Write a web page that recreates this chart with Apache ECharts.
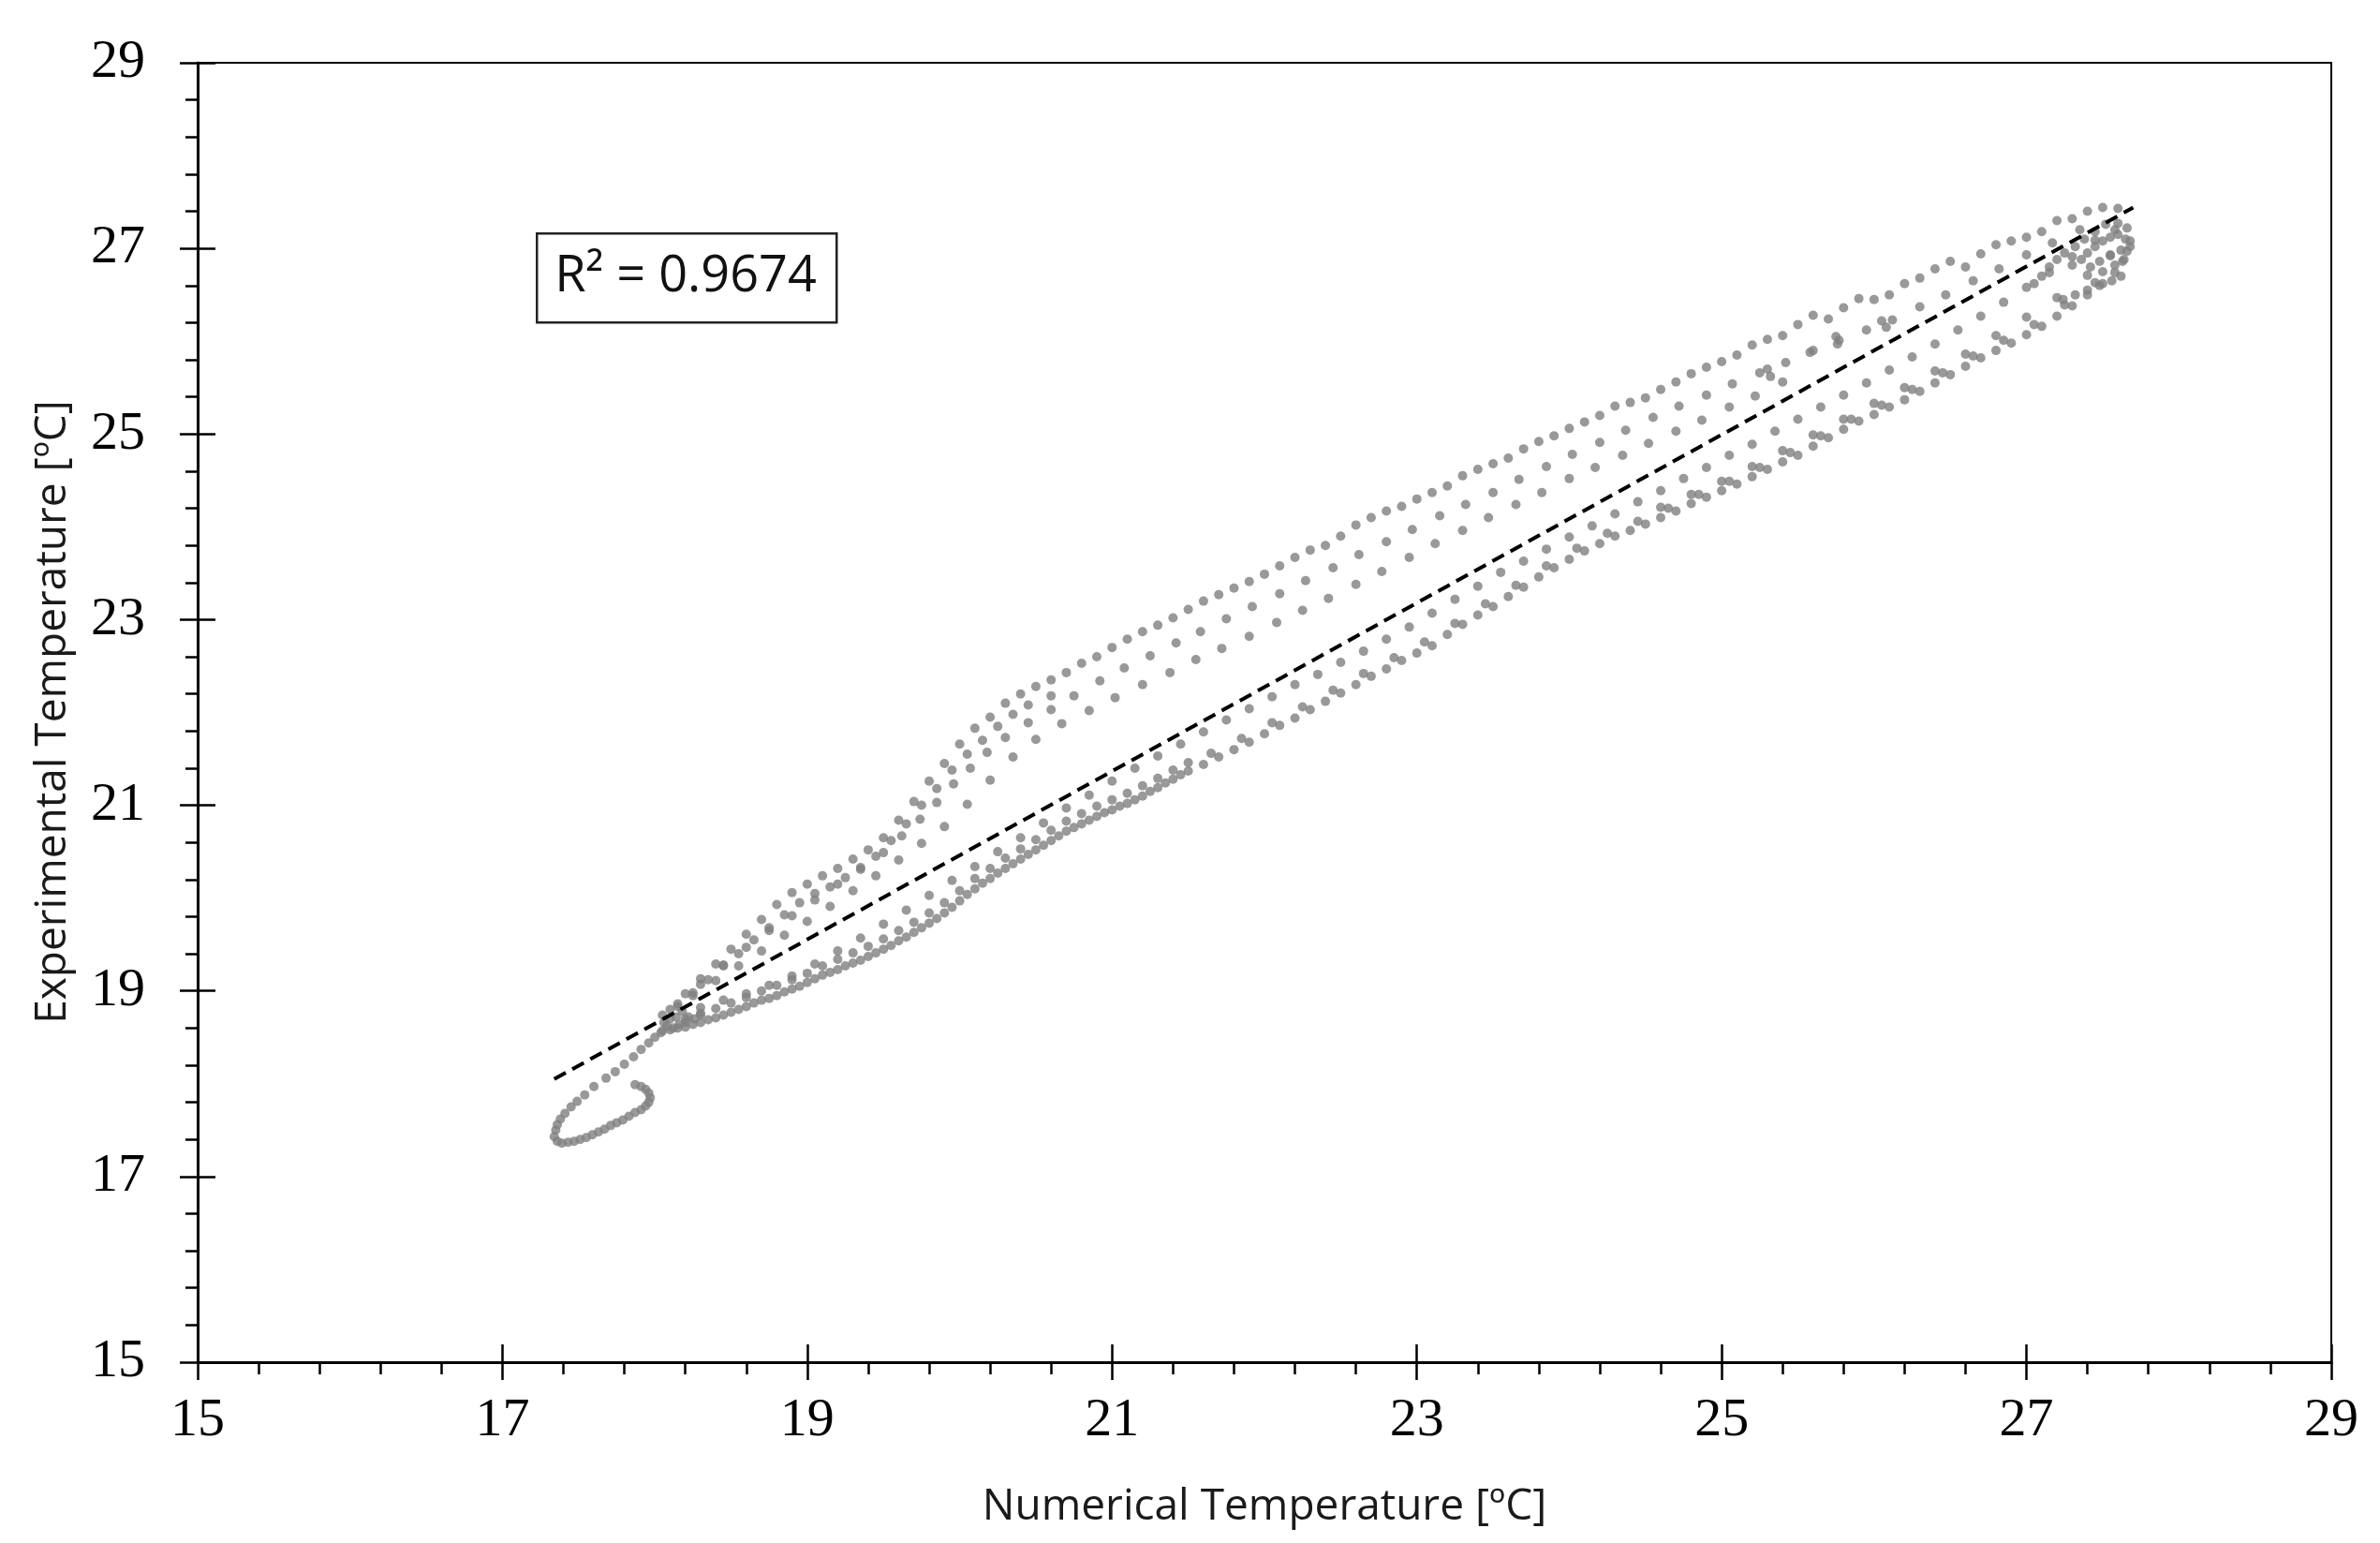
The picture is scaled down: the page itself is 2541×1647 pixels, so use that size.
<!DOCTYPE html>
<html>
<head>
<meta charset="utf-8">
<script src="https://cdn.jsdelivr.net/npm/echarts@6/dist/echarts.min.js"></script>
<style>
html,body{margin:0;padding:0;background:#fff;}
#chart{width:2541px;height:1647px;}
</style>
</head>
<body>
<div id="chart"></div>
<script>
// ---- data (Numerical temperature, Experimental temperature) ----
const xTitle = 'Numerical Temperature [ºC]';
const yTitle = 'Experimental Temperature [ºC]';
const r2Label = 'R² = 0.9674';

// outer upper edge of the loops
const upperEdge = [[18.05,18.74],[18.10,18.80],[18.20,18.97],[18.30,19.13],[18.40,19.29],[18.50,19.45],[18.60,19.61],[18.70,19.77],[18.80,19.93],[18.90,20.06],[19.00,20.15],[19.10,20.24],[19.20,20.32],[19.30,20.42],[19.40,20.52],[19.50,20.65],[19.60,20.84],[19.70,21.04],[19.80,21.26],[19.90,21.45],[20.00,21.66],[20.10,21.83],[20.20,21.95],[20.30,22.10],[20.40,22.20],[20.50,22.28],[20.60,22.35],[20.70,22.43],[20.80,22.53],[20.90,22.60],[21.00,22.70],[21.10,22.79],[21.20,22.87],[21.30,22.94],[21.40,23.02],[21.50,23.11],[21.60,23.20],[21.70,23.27],[21.80,23.34],[21.90,23.41],[22.00,23.49],[22.10,23.58],[22.20,23.67],[22.30,23.75],[22.40,23.80],[22.50,23.90],[22.60,24.02],[22.70,24.10],[22.80,24.17],[22.90,24.22],[23.00,24.30],[23.10,24.37],[23.20,24.44],[23.30,24.55],[23.40,24.62],[23.50,24.68],[23.60,24.74],[23.70,24.84],[23.80,24.92],[23.90,24.98],[24.00,25.06],[24.10,25.13],[24.20,25.20],[24.30,25.30],[24.40,25.34],[24.50,25.39],[24.60,25.48],[24.70,25.56],[24.80,25.65],[24.90,25.72],[25.00,25.78],[25.10,25.85],[25.20,25.96],[25.30,26.02],[25.40,26.06],[25.50,26.18],[25.60,26.28],[25.70,26.24],[25.80,26.36],[25.90,26.46],[26.00,26.45],[26.10,26.50],[26.20,26.62],[26.30,26.68],[26.40,26.78],[26.50,26.86],[26.60,26.80],[26.70,26.94],[26.80,27.04],[26.90,27.08],[27.00,27.12],[27.10,27.18],[27.20,27.30],[27.30,27.32],[27.40,27.40],[27.50,27.44],[27.60,27.43]];

// second row just inside the upper edge (left part)
const upperInner = [[18.15,18.83],[18.25,18.98],[18.35,19.12],[18.45,19.27],[18.55,19.40],[18.65,19.55],[18.75,19.68],[18.85,19.82],[18.95,19.95],[19.05,20.05],[19.15,20.12],[19.25,20.22],[19.35,20.33],[19.45,20.45],[19.55,20.62],[19.65,20.80],[19.75,21.00],[19.85,21.18],[19.95,21.38],[20.05,21.55],[20.15,21.70],[20.25,21.85],[20.35,21.98],[20.45,22.08],[20.60,22.18]];

// middle dotted rows above the trend line
const midRowB = [[18.15,18.86],[18.30,19.07],[18.45,19.28],[18.60,19.47],[18.75,19.65],[18.90,19.81],[19.05,19.98],[19.20,20.15],[19.35,20.31],[19.50,20.49],[19.62,20.67],[19.74,20.85],[19.85,21.03],[19.96,21.23],[20.07,21.40],[20.18,21.57],[20.30,21.73],[20.45,21.89],[20.60,22.03],[20.75,22.18],[20.92,22.34],[21.08,22.48],[21.25,22.61],[21.42,22.75],[21.58,22.87],[21.75,23.01],[21.92,23.14],[22.10,23.28],[22.27,23.42],[22.45,23.56],[22.62,23.70],[22.80,23.84],[22.97,23.97],[23.15,24.12],[23.32,24.24],[23.50,24.37],[23.67,24.51],[23.85,24.65],[24.02,24.78],[24.20,24.91],[24.37,25.04],[24.55,25.18],[24.72,25.30],[24.90,25.42],[25.07,25.54],[25.25,25.66],[25.42,25.77],[25.60,25.90],[25.77,26.01],[25.95,26.12],[26.12,26.23],[26.30,26.37],[26.47,26.50],[26.65,26.65],[26.82,26.78],[27.00,26.93],[27.17,27.06],[27.35,27.20]];

const midRowC = [[18.25,18.95],[18.40,19.11],[18.55,19.27],[18.70,19.43],[18.85,19.60],[19.00,19.75],[19.15,19.91],[19.30,20.08],[19.45,20.24],[19.60,20.41],[19.75,20.59],[19.90,20.77],[20.05,21.01],[20.20,21.27],[20.35,21.52],[20.50,21.71],[20.67,21.88],[20.85,22.02],[21.02,22.16],[21.20,22.30],[21.38,22.43],[21.55,22.57],[21.72,22.69],[21.90,22.82],[22.08,22.97],[22.25,23.10],[22.42,23.23],[22.60,23.38],[22.77,23.52],[22.95,23.67],[23.12,23.82],[23.30,23.96],[23.47,24.10],[23.65,24.24],[23.82,24.37],[24.00,24.52],[24.17,24.64],[24.35,24.77],[24.52,24.90],[24.70,25.03],[24.87,25.15],[25.05,25.29],[25.22,25.41],[25.40,25.56],[25.30,25.70],[25.32,25.62],[25.58,25.88],[25.75,26.05],[25.76,25.97],[26.05,26.22],[26.08,26.15]];

// dotted row just below the trend line
const lowRowD = [[18.30,18.82],[18.45,18.90],[18.60,18.97],[18.75,19.06],[18.90,19.16],[19.05,19.29],[19.20,19.43],[19.35,19.57],[19.50,19.72],[19.65,19.87],[19.80,20.03],[19.95,20.19],[20.10,20.34],[20.25,20.50],[20.40,20.65],[20.55,20.81],[20.70,20.97],[20.85,21.11],[21.00,21.26],[21.15,21.40],[21.30,21.53],[21.45,21.66],[21.60,21.79],[21.75,21.92],[21.90,22.04],[22.05,22.17],[22.20,22.30],[22.35,22.41],[22.50,22.54],[22.65,22.66],[22.80,22.79],[22.95,22.92],[23.10,23.07],[23.25,23.22],[23.40,23.36],[23.55,23.51],[23.70,23.63],[23.85,23.76],[24.00,23.89],[24.15,24.01],[24.30,24.14],[24.45,24.27],[24.60,24.39],[24.75,24.52],[24.90,24.64],[25.05,24.77],[25.20,24.89],[25.35,25.03],[25.50,25.16],[25.65,25.29],[25.80,25.42],[25.95,25.55],[26.10,25.69],[26.25,25.83],[26.40,25.97],[26.55,26.12],[26.70,26.27],[26.85,26.42],[27.00,26.58],[27.15,26.74],[27.30,26.91],[27.45,27.09],[27.60,27.27]];

// second lower row (right part)
const lowRowF = [[24.60,24.21],[24.80,24.35],[25.00,24.49],[25.20,24.65],[25.40,24.82],[25.60,24.99],[25.80,25.16],[26.00,25.33],[26.20,25.50],[26.40,25.68],[26.60,25.86],[26.80,26.06],[27.00,26.26],[27.20,26.47],[27.40,26.71],[27.55,26.93]];

// lower edge of the loops (dense band)
const lowerEdge = [[18.05,18.57],[18.10,18.58],[18.15,18.60],[18.20,18.61],[18.25,18.64],[18.30,18.66],[18.35,18.69],[18.40,18.71],[18.45,18.74],[18.50,18.77],[18.55,18.80],[18.60,18.83],[18.65,18.87],[18.70,18.90],[18.75,18.92],[18.80,18.95],[18.85,18.99],[18.90,19.02],[18.95,19.05],[19.00,19.09],[19.05,19.13],[19.10,19.17],[19.15,19.20],[19.20,19.23],[19.25,19.27],[19.30,19.30],[19.35,19.33],[19.40,19.37],[19.45,19.41],[19.50,19.45],[19.55,19.49],[19.60,19.54],[19.65,19.58],[19.70,19.63],[19.75,19.68],[19.80,19.73],[19.85,19.78],[19.90,19.84],[19.95,19.90],[20.00,19.97],[20.05,20.04],[20.10,20.10],[20.15,20.16],[20.20,20.21],[20.25,20.27],[20.30,20.32],[20.35,20.37],[20.40,20.42],[20.45,20.47],[20.50,20.52],[20.55,20.57],[20.60,20.62],[20.65,20.67],[20.70,20.72],[20.75,20.76],[20.80,20.80],[20.85,20.84],[20.90,20.88],[20.95,20.92],[21.00,20.95],[21.05,20.99],[21.10,21.02],[21.15,21.06],[21.20,21.10],[21.25,21.15],[21.30,21.19],[21.35,21.24],[21.40,21.28],[21.45,21.33],[21.50,21.37],[21.60,21.44],[21.70,21.52],[21.80,21.60],[21.90,21.68],[22.00,21.77],[22.10,21.86],[22.20,21.94],[22.30,22.03],[22.40,22.12],[22.50,22.21],[22.60,22.30],[22.70,22.39],[22.80,22.47],[22.90,22.56],[23.00,22.64],[23.10,22.72],[23.20,22.84],[23.30,22.95],[23.40,23.05],[23.50,23.14],[23.60,23.25],[23.70,23.35],[23.80,23.46],[23.90,23.56],[24.00,23.65],[24.10,23.74],[24.20,23.82],[24.30,23.90],[24.40,23.96],[24.50,24.03],[24.60,24.10],[24.70,24.17],[24.80,24.25],[24.90,24.32],[25.00,24.39],[25.10,24.46],[25.20,24.54],[25.30,24.62],[25.40,24.70],[25.50,24.77],[25.60,24.87],[25.70,24.96],[25.80,25.05],[25.90,25.14],[26.00,25.21],[26.10,25.29],[26.20,25.37],[26.30,25.46],[26.40,25.55],[26.50,25.64],[26.60,25.73],[26.70,25.82],[26.80,25.90],[26.90,25.98],[27.00,26.07],[27.10,26.16],[27.20,26.27],[27.30,26.38],[27.40,26.50],[27.50,26.62],[27.58,26.74],[27.63,26.86],[27.66,26.97],[27.68,27.08]];

const lowerInner = [[18.20,18.70],[18.30,18.76],[18.40,18.81],[18.50,18.87],[18.60,18.93],[18.70,19.00],[18.80,19.06],[18.90,19.12],[19.00,19.19],[19.10,19.27],[19.20,19.34],[19.30,19.41],[19.40,19.48],[19.50,19.56],[19.60,19.65],[19.70,19.74],[19.80,19.84],[19.90,19.95],[20.00,20.08],[20.10,20.21],[20.20,20.32],[20.30,20.43],[20.40,20.53],[20.50,20.63],[20.60,20.73],[20.70,20.83],[20.80,20.91],[20.90,20.99],[21.00,21.06],[21.10,21.13],[21.20,21.21],[21.30,21.29],[21.40,21.38],[21.50,21.46],[21.65,21.56],[21.85,21.72],[22.05,21.89],[22.25,22.06],[22.45,22.24],[22.65,22.42],[22.85,22.59],[23.05,22.76],[23.25,22.96],[23.45,23.17],[23.65,23.37],[23.85,23.58],[24.05,23.77],[24.25,23.93],[24.45,24.06],[24.65,24.20],[24.85,24.35],[25.05,24.49],[25.25,24.64],[25.45,24.80],[25.65,24.98],[25.85,25.16],[26.05,25.31],[26.25,25.48],[26.45,25.66],[26.65,25.84],[26.85,26.01],[27.05,26.18],[27.25,26.39],[27.45,26.63]];

// small loop at the low end and the junction cluster
const startLoop = [[17.35,17.50],[17.34,17.43],[17.36,17.38],[17.39,17.36],[17.43,17.37],[17.47,17.38],[17.51,17.40],[17.55,17.42],[17.59,17.45],[17.63,17.48],[17.67,17.51],[17.71,17.55],[17.75,17.58],[17.79,17.61],[17.83,17.65],[17.87,17.69],[17.91,17.72],[17.94,17.76],[17.96,17.80],[17.97,17.85],[17.96,17.90],[17.94,17.94],[17.91,17.97],[17.87,17.99],[17.36,17.56],[17.38,17.62],[17.41,17.68],[17.45,17.75],[17.49,17.81],[17.54,17.88],[17.60,17.97],[17.68,18.06],[17.74,18.13],[17.80,18.21],[17.86,18.29],[17.91,18.37],[17.96,18.44],[18.00,18.50],[18.04,18.55]];
const junction = [[18.08,18.62],[18.12,18.60],[18.16,18.64],[18.20,18.66],[18.10,18.70],[18.14,18.72],[18.22,18.72],[18.26,18.70],[18.30,18.74],[18.18,18.78],[18.06,18.66]];

// dense cluster at the high end
const endCluster = [[27.40,26.95],[27.45,27.02],[27.50,27.08],[27.55,27.12],[27.60,27.15],[27.65,27.10],[27.68,27.02],[27.62,26.98],[27.55,26.92],[27.48,26.86],[27.42,26.80],[27.50,26.75],[27.58,26.82],[27.64,26.88],[27.36,26.88],[27.30,26.82],[27.58,27.20],[27.66,27.22],[27.52,27.26],[27.45,27.18],[27.38,27.10],[27.32,27.02],[27.25,26.95],[27.20,26.88],[27.15,26.80],[27.10,26.70],[27.05,26.62],[27.62,26.70],[27.56,26.65],[27.48,26.60],[27.40,26.55],[27.32,26.50],[27.24,26.45]];

// linear trend line end points
const trendLine = [[17.34,18.05],[27.70,27.44]];

const pointSets = [upperEdge, upperInner, midRowB, midRowC, lowRowD, lowRowF, lowerEdge, lowerInner, startLoop, junction, endCluster];

// ---- chart ----
const chart = echarts.init(document.getElementById('chart'));
const tickStyle = {color:'#000', width:2.5};
const labelFont = {fontFamily:'Liberation Serif', fontSize:58, color:'#000'};

const series = pointSets.map(d => ({
  type:'scatter', data:d, xAxisIndex:0, yAxisIndex:0,
  symbol:'circle', symbolSize:10,
  itemStyle:{color:'#7f7f7f'}, z:2, silent:true
}));
series.push({
  type:'line', data:trendLine, xAxisIndex:0, yAxisIndex:0,
  symbol:'none', lineStyle:{color:'#000', width:4, type:[14,8]}, z:5, silent:true
});

chart.setOption({
  animation:false,
  backgroundColor:'#fff',
  grid:{left:211, right:52, top:67, bottom:193, show:true, borderColor:'#000', borderWidth:2, backgroundColor:'rgba(0,0,0,0)'},
  xAxis:[
    {type:'value', min:15, max:29, interval:2, position:'bottom',
     axisLine:{onZero:false, lineStyle:{color:'#000', width:3}},
     axisTick:{inside:false, length:19, lineStyle:tickStyle},
     minorTick:{show:true, splitNumber:5, length:13, lineStyle:tickStyle},
     splitLine:{show:false}, minorSplitLine:{show:false},
     axisLabel:Object.assign({margin:34}, labelFont)},
    {type:'value', min:15, max:29, interval:2, position:'bottom',
     axisLine:{show:false}, axisTick:{inside:true, length:19, lineStyle:tickStyle},
     minorTick:{show:false}, splitLine:{show:false}, axisLabel:{show:false}}
  ],
  yAxis:[
    {type:'value', min:15, max:29, interval:2, position:'left',
     axisLine:{onZero:false, lineStyle:{color:'#000', width:3}},
     axisTick:{inside:false, length:19, lineStyle:tickStyle},
     minorTick:{show:true, splitNumber:5, length:13, lineStyle:tickStyle},
     splitLine:{show:false}, minorSplitLine:{show:false},
     axisLabel:Object.assign({margin:56}, labelFont)},
    {type:'value', min:15, max:29, interval:2, position:'left',
     axisLine:{show:false}, axisTick:{inside:true, length:19, lineStyle:tickStyle},
     minorTick:{show:false}, splitLine:{show:false}, axisLabel:{show:false}}
  ],
  series:series,
  graphic:[
    {type:'rect', left:572, top:248, shape:{width:320, height:95},
     style:{fill:'#fff', stroke:'#222', lineWidth:2.5}, z:10},
    {type:'text', x:732, y:296, z:11,
     style:{text:r2Label, fontFamily:'Open Sans', fontSize:54, fill:'#111', textAlign:'center', textVerticalAlign:'middle'}},
    {type:'text', x:1350, y:1609, z:11,
     style:{text:xTitle, fontFamily:'Open Sans', fontSize:46, fill:'#1a1a1a', textAlign:'center', textVerticalAlign:'middle'}},
    {type:'text', x:57, y:760, rotation:Math.PI/2, z:11,
     style:{text:yTitle, fontFamily:'Open Sans', fontSize:46, fill:'#1a1a1a', textAlign:'center', textVerticalAlign:'middle'}}
  ]
});
</script>
</body>
</html>
